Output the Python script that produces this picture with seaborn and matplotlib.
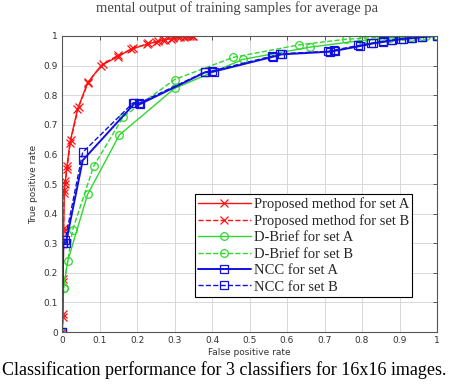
import numpy as np
import pandas as pd
import seaborn as sns
import matplotlib.pyplot as plt

# ROC points
prop_a_fpr = [0, 0.002, 0.003, 0.004, 0.006, 0.008, 0.012, 0.021, 0.041, 0.068, 0.104, 0.148, 0.183, 0.226, 0.25, 0.27, 0.29, 0.31, 0.325, 0.335, 0.346]
prop_a_tpr = [0, 0.05, 0.18, 0.34, 0.47, 0.50, 0.55, 0.64, 0.752, 0.842, 0.90, 0.93, 0.955, 0.972, 0.98, 0.986, 0.991, 0.995, 0.998, 1.0, 1.0]
prop_b_fpr = [0, 0.002, 0.003, 0.004, 0.005, 0.009, 0.014, 0.023, 0.044, 0.07, 0.108, 0.15, 0.19, 0.23, 0.255, 0.275, 0.295, 0.315, 0.33, 0.34, 0.35]
prop_b_tpr = [0, 0.06, 0.17, 0.35, 0.48, 0.51, 0.56, 0.65, 0.76, 0.845, 0.905, 0.935, 0.958, 0.975, 0.982, 0.988, 0.993, 0.996, 0.999, 1.0, 1.0]

dbrief_a_fpr = [0, 0.004, 0.015, 0.068, 0.153, 0.30, 0.482, 0.66, 0.80, 0.875, 0.93, 0.97, 1.0]
dbrief_a_tpr = [0, 0.15, 0.24, 0.465, 0.666, 0.823, 0.921, 0.962, 0.985, 0.993, 0.998, 1.0, 1.0]
dbrief_b_fpr = [0, 0.004, 0.028, 0.084, 0.163, 0.30, 0.457, 0.632, 0.757, 0.85, 0.91, 0.96, 1.0]
dbrief_b_tpr = [0, 0.15, 0.345, 0.56, 0.727, 0.853, 0.928, 0.97, 0.989, 0.996, 1.0, 1.0, 1.0]

ncc_a_fpr = [0, 0.003, 0.01, 0.055, 0.193, 0.208, 0.381, 0.405, 0.563, 0.586, 0.715, 0.728, 0.795, 0.83, 0.857, 0.88, 0.908, 0.932, 0.96, 1.0]
ncc_a_tpr = [0, 0.30, 0.30, 0.58, 0.772, 0.77, 0.877, 0.88, 0.93, 0.938, 0.947, 0.95, 0.966, 0.975, 0.98, 0.985, 0.99, 0.992, 0.996, 1.0]
ncc_b_fpr = [0, 0.003, 0.008, 0.055, 0.19, 0.205, 0.38, 0.40, 0.56, 0.58, 0.71, 0.725, 0.79, 0.825, 0.855, 0.878, 0.905, 0.93, 0.96, 1.0]
ncc_b_tpr = [0, 0.30, 0.31, 0.607, 0.775, 0.773, 0.878, 0.882, 0.932, 0.94, 0.948, 0.952, 0.968, 0.976, 0.982, 0.987, 0.991, 0.994, 0.997, 1.0]

ticks = np.round(np.arange(0, 1.01, 0.1), 1)
tick_labels = ["0", "0.1", "0.2", "0.3", "0.4", "0.5", "0.6", "0.7", "0.8", "0.9", "1"]

sns.set_style("whitegrid")
fig = plt.figure(figsize=(4.74, 3.87), dpi=100)
ax = fig.add_axes([0.131, 0.142, 0.791, 0.765])

series = [
    (prop_a_fpr, prop_a_tpr, "Proposed method for set A", "#ff1010", "-", "x", 1.0),
    (prop_b_fpr, prop_b_tpr, "Proposed method for set B", "#ff1010", "--", "x", 1.0),
    (dbrief_a_fpr, dbrief_a_tpr, "D-Brief for set A", "#2ed82e", "-", "o", 1.0),
    (dbrief_b_fpr, dbrief_b_tpr, "D-Brief for set B", "#2ed82e", "--", "o", 1.0),
    (ncc_a_fpr, ncc_a_tpr, "NCC for set A", "#1010e0", "-", "s", 1.4),
    (ncc_b_fpr, ncc_b_tpr, "NCC for set B", "#1010e0", "--", "s", 1.0),
]
for fpr, tpr, label, color, ls, mk, lw in series:
    sns.lineplot(x=fpr, y=tpr, ax=ax, label=label, color=color, linestyle=ls,
                 linewidth=lw, marker=mk, markersize=5.5, markerfacecolor="none",
                 markeredgecolor=color, markeredgewidth=0.9,
                 estimator=None, sort=False)

ax.set_xlim(0, 1)
ax.set_ylim(0, 1)
ax.set_xticks(ticks)
ax.set_yticks(ticks)
ax.set_xticklabels(tick_labels)
ax.set_yticklabels(tick_labels)
ax.tick_params(direction="in", top=True, right=True, length=3, width=0.6,
               color="#444444", labelsize=6.5, labelcolor="#333333", pad=3)
ax.grid(True, color="#d8d8d8", linewidth=0.7)
for sp in ax.spines.values():
    sp.set_color("#555555")
    sp.set_linewidth(0.8)
ax.set_xlabel("False positive rate", fontsize=6.5, color="#333333", labelpad=2)
ax.set_ylabel("True positive rate", fontsize=6.5, color="#333333", labelpad=4)

leg = ax.legend(loc="lower right", bbox_to_anchor=(0.933, 0.12),
                prop={"family": "Liberation Serif", "size": 10.5},
                frameon=True, fancybox=False, framealpha=1, edgecolor="black",
                borderpad=0.2, labelspacing=0.22, handlelength=3.6,
                handletextpad=0.2, borderaxespad=0)
leg.get_frame().set_linewidth(0.8)

fig.text(0.5, 0.998, "mental output of training samples for average pa",
         ha="center", va="top", fontsize=10.5, family="Liberation Serif", color="#444444")
fig.text(0.004, 0.045, "Classification performance for 3 classifiers for 16x16 images.",
         ha="left", va="center", fontsize=13, family="Liberation Serif", color="black")

fig.savefig("out.png", dpi=100)
